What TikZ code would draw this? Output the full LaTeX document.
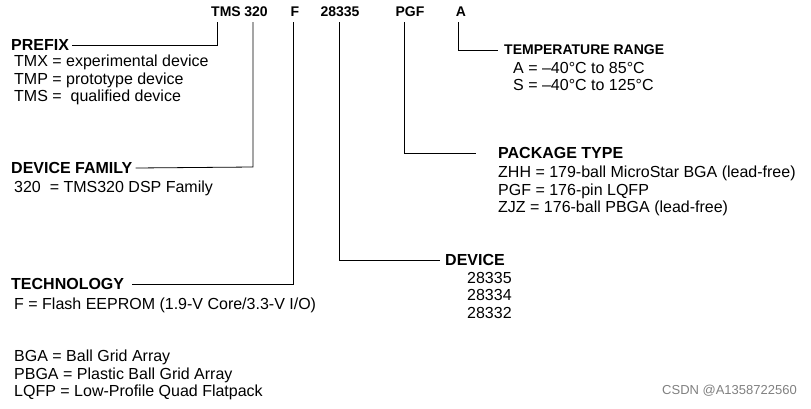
\documentclass[tikz,border=0pt]{standalone}
\usepackage{fontspec}
\setmainfont{Liberation Sans}
\begin{document}
\begin{tikzpicture}[x=1pt,y=-1pt,
  hd/.style={font=\fontsize{16}{17}\selectfont\bfseries,anchor=west,inner sep=0pt},
  tx/.style={font=\fontsize{16}{17.5}\selectfont,anchor=north west,inner sep=0pt,align=left},
  top/.style={font=\fontsize{14}{15}\selectfont\bfseries,inner sep=0pt},
  ln/.style={line width=0.8pt}]
\useasboundingbox (0,0) rectangle (811,408);
\node[top] (tms) at (226,12) {TMS};
\node[top] (t320) at (256,12) {320};
\node[top] (tf) at (295,12) {F};
\node[top] (tdev) at (340,12) {28335};
\node[top] (tpgf) at (410,12) {PGF};
\node[top] (ta) at (461,12) {A};
\node[hd] (prefix) at (11,45) {PREFIX};
\node[tx] at (14,55) {TMX = experimental device\\TMP = prototype device\\TMS = \ qualified device};
\node[hd] (family) at (11,168) {DEVICE FAMILY};
\node[tx] at (14,181) {320 \ = TMS320 DSP Family};
\node[hd] (tech) at (11,284) {TECHNOLOGY};
\node[tx] at (14,298) {F = Flash EEPROM (1.9-V Core/3.3-V I/O)};
\node[tx] at (14,350) {BGA = Ball Grid Array\\PBGA = Plastic Ball Grid Array\\LQFP = Low-Profile Quad Flatpack};
\node[hd,font=\fontsize{14}{15}\selectfont\bfseries] (temp) at (504,50) {TEMPERATURE RANGE};
\node[tx] at (513,62) {A = –40°C to 85°C\\S = –40°C to 125°C};
\node[hd] (pkg) at (498,153) {PACKAGE TYPE};
\node[tx] at (498,166) {ZHH = 179-ball MicroStar BGA (lead-free)\\PGF = 176-pin LQFP\\ZJZ = 176-ball PBGA (lead-free)};
\node[hd] (dev) at (445,260) {DEVICE};
\node[tx] at (467,272) {28335\\28334\\28332};
\draw[ln] (prefix.east)++(3,0) -- (217,45) -- (217,22);
\draw[ln] (family.east)++(3,0) -- (253,167) -- (253,22);
\draw[ln] (tech.east)++(8,0) -- (293,284) -- (293,22);
\draw[ln] (339,22) -- (339,260) -- ([xshift=-5]dev.west);
\draw[ln] (404,22) -- (404,153) -- ([xshift=-22]pkg.west);
\draw[ln] (458,22) -- (458,50) -- ([xshift=-6]temp.west);
\node[font=\fontsize{13}{14}\selectfont,text=gray,anchor=east,inner sep=0pt] at (797,391) {CSDN @A1358722560};
\end{tikzpicture}
\end{document}
